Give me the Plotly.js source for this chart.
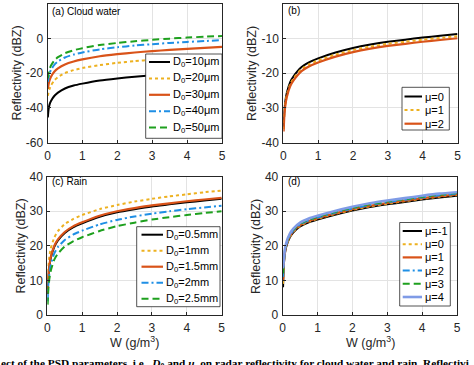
<!DOCTYPE html>
<html>
<head>
<meta charset="utf-8">
<script src="https://cdn.plot.ly/plotly-3.0.1.min.js"></script>
<style>html,body{margin:0;padding:0;background:#fff;}#chart{width:474px;height:365px;}</style>
</head>
<body>
<div id="chart"></div>
<script>
// ---- data ----
const W = [0.01, 0.03, 0.06, 0.1, 0.2, 0.3, 0.5, 0.75, 1, 1.5, 2, 2.5, 3, 3.5, 4, 4.5, 5];

// (a) cloud water, varying D0
const cloudLabels = ["D<sub>0</sub>=10μm", "D<sub>0</sub>=20μm", "D<sub>0</sub>=30μm", "D<sub>0</sub>=40μm", "D<sub>0</sub>=50μm"];
const cloudD10 = [-45.5, -41, -38, -36, -33, -31.2, -28.8, -27.1, -26, -24.2, -23, -22, -21.2, -20.6, -20, -19.5, -19];
const cloudD20 = [-33, -31, -29, -27, -24, -22.2, -19.9, -18.2, -17, -15.3, -14, -13, -12.2, -11.6, -11, -10.5, -10];
const cloudD30 = [-29, -26.5, -24, -22, -19, -17.2, -14.9, -13.2, -12, -10.2, -9, -8, -7.2, -6.5, -5.9, -5.4, -4.8];
const cloudD40 = [-25, -22.5, -20, -18, -15, -13.2, -10.9, -9.2, -8, -6.2, -5, -4, -3.2, -2.5, -1.9, -1.4, -0.9];
const cloudD50 = [-23, -20, -17.5, -15.5, -12.5, -10.7, -8.4, -6.7, -5.5, -3.7, -2.5, -1.5, -0.7, 0, 0.6, 1.1, 1.5];

// (b) cloud water, varying mu
const cloudMuLabels = ["μ=0", "μ=1", "μ=2"];
const cloudMu0 = [-35.5, -31, -28, -25.7, -22.5, -20.8, -18.4, -16.8, -15.7, -14, -12.7, -11.7, -10.9, -10.3, -9.7, -9.2, -8.7];
const cloudMu1 = [-36.1, -31.6, -28.6, -26.3, -23.1, -21.4, -19.0, -17.4, -16.3, -14.6, -13.3, -12.3, -11.5, -10.9, -10.3, -9.8, -9.3];
const cloudMu2 = [-36.8, -32.2, -29.2, -26.9, -23.7, -22.0, -19.6, -18.0, -16.9, -15.2, -13.9, -12.9, -12.1, -11.5, -10.9, -10.4, -9.9];

// (c) rain, varying D0
const rainLabels = ["D<sub>0</sub>=0.5mm", "D<sub>0</sub>=1mm", "D<sub>0</sub>=1.5mm", "D<sub>0</sub>=2mm", "D<sub>0</sub>=2.5mm"];
const rainD05 = [6, 11, 14, 16.5, 19.7, 21.5, 23.7, 25.4, 26.5, 28.4, 29.7, 30.6, 31.4, 32, 32.6, 33.1, 33.6];
const rainD1  = [9, 14, 17, 19.3, 22.4, 24.2, 26.3, 27.8, 28.9, 30.6, 31.8, 32.8, 33.6, 34.3, 34.9, 35.5, 36];
const rainD15 = [6.5, 11.3, 14.3, 16.8, 20.0, 21.8, 24.0, 25.7, 26.8, 28.7, 30.0, 30.9, 31.7, 32.3, 32.9, 33.4, 33.9];
const rainD2  = [4, 9, 12, 14.6, 17.8, 19.6, 21.7, 23.3, 24.4, 26.2, 27.5, 28.5, 29.3, 30, 30.6, 31.1, 31.6];
const rainD25 = [3, 7.5, 10.5, 12.8, 16.0, 17.7, 19.8, 21.4, 22.5, 24.3, 25.7, 26.7, 27.6, 28.3, 28.9, 29.5, 30];

// (d) rain, varying mu
const rainMuLabels = ["μ=-1", "μ=0", "μ=1", "μ=2", "μ=3", "μ=4"];
const rainMuM1 = [8, 14, 17.5, 19.7, 22.3, 23.8, 25.6, 26.8, 27.6, 29, 30.2, 31.2, 32, 32.7, 33.4, 34, 34.5];
const rainMu0  = [9, 14.3, 17.8, 19.9, 22.5, 24, 25.8, 27, 27.8, 29.2, 30.4, 31.4, 32.2, 32.9, 33.6, 34.2, 34.7];
const rainMu1  = [10, 14.6, 18, 20.1, 22.7, 24.2, 26, 27.2, 28, 29.4, 30.6, 31.6, 32.4, 33.1, 33.8, 34.4, 34.9];
const rainMu2  = [11, 14.9, 18.3, 20.3, 22.9, 24.4, 26.2, 27.4, 28.2, 29.6, 30.8, 31.8, 32.6, 33.3, 34, 34.6, 35.1];
const rainMu3  = [12, 15.2, 18.5, 20.5, 23.1, 24.6, 26.4, 27.6, 28.4, 29.8, 31, 32, 32.8, 33.5, 34.2, 34.8, 35.3];
const rainMu4  = [13.5, 15.6, 18.8, 20.8, 23.4, 24.9, 26.7, 27.9, 28.7, 30.1, 31.3, 32.3, 33.1, 33.8, 34.5, 35.1, 35.5];

const xTicks = [0, 1, 2, 3, 4, 5];
const yTicksA = [-60, -40, -20, 0, 20];
const yTicksB = [-40, -30, -20, -10, 0];
const yTicksCD = [0, 10, 20, 30, 40];

// ---- styles ----
const S = {
  black:  {color: '#000000', dash: 'solid', width: 2},
  yellow: {color: '#EDB120', dash: 'dot', width: 2},
  red:    {color: '#D95319', dash: 'solid', width: 2.2},
  blue:   {color: '#1F8FE5', dash: '7px,3px,2px,3px', width: 2},
  green:  {color: '#1EA01E', dash: '7px,4px', width: 2},
  lilac:  {color: '#7F9BE6', dash: 'solid', width: 2.6}
};

const FW = 474, FH = 365;
const px = x => x / FW;
const py = y => 1 - y / FH;

function tr(y, style, xa, ya) {
  return {x: W, y: y, type: 'scatter', mode: 'lines', xaxis: xa, yaxis: ya,
    line: {color: style.color, dash: style.dash, width: style.width, shape: 'spline', smoothing: 0.5},
    showlegend: false, hoverinfo: 'skip'};
}

const data = [
  tr(cloudD10, S.black, 'x', 'y'),
  tr(cloudD20, S.yellow, 'x', 'y'),
  tr(cloudD30, S.red, 'x', 'y'),
  tr(cloudD40, S.blue, 'x', 'y'),
  tr(cloudD50, S.green, 'x', 'y'),
  tr(cloudMu0, S.black, 'x2', 'y2'),
  tr(cloudMu1, S.yellow, 'x2', 'y2'),
  tr(cloudMu2, S.red, 'x2', 'y2'),
  tr(rainD05, S.black, 'x3', 'y3'),
  tr(rainD1, S.yellow, 'x3', 'y3'),
  tr(rainD15, S.red, 'x3', 'y3'),
  tr(rainD2, S.blue, 'x3', 'y3'),
  tr(rainD25, S.green, 'x3', 'y3'),
  tr(rainMuM1, S.black, 'x4', 'y4'),
  tr(rainMu0, S.yellow, 'x4', 'y4'),
  tr(rainMu1, S.red, 'x4', 'y4'),
  tr(rainMu2, S.blue, 'x4', 'y4'),
  tr(rainMu3, S.green, 'x4', 'y4'),
  tr(rainMu4, S.lilac, 'x4', 'y4')
];

const FONT = 'Liberation Sans, Arial, sans-serif';
const AX = '#262626';

function xa(domain, anchor) {
  return {domain: domain, anchor: anchor, range: [0, 5], tickvals: xTicks, ticktext: xTicks.map(String),
    showgrid: true, gridcolor: '#E3E3E3', zeroline: false, showline: true, mirror: true,
    linecolor: AX, linewidth: 1, ticks: 'inside', ticklen: 3, tickcolor: AX,
    tickfont: {family: FONT, size: 12, color: AX}, ticklabelstandoff: 2};
}
function ya(domain, anchor, range, ticks) {
  return {domain: domain, anchor: anchor, range: range, tickvals: ticks, ticktext: ticks.map(String),
    showgrid: true, gridcolor: '#E3E3E3', zeroline: false, showline: true, mirror: true,
    linecolor: AX, linewidth: 1, ticks: 'inside', ticklen: 3, tickcolor: AX,
    tickfont: {family: FONT, size: 12, color: AX}, ticklabelstandoff: 1};
}

const topY = [py(142.5), py(4)];
const botY = [py(315), py(176.7)];

const shapes = [];
const annotations = [];

function legend(box, entries, firstY, step, lx0, lx1, tx) {
  shapes.push({type: 'rect', xref: 'paper', yref: 'paper', x0: px(box[0]), x1: px(box[2]), y0: py(box[1]), y1: py(box[3]),
    line: {color: AX, width: 0.8}, fillcolor: '#FFFFFF', layer: 'above'});
  entries.forEach((e, i) => {
    const yy = firstY + i * step;
    shapes.push({type: 'line', xref: 'paper', yref: 'paper', x0: px(lx0), x1: px(lx1), y0: py(yy), y1: py(yy),
      line: {color: e.style.color, dash: e.style.dash, width: e.style.width}, layer: 'above'});
    annotations.push({xref: 'paper', yref: 'paper', x: px(tx), y: py(yy), xanchor: 'left', yanchor: 'middle',
      text: e.label, showarrow: false, font: {family: FONT, size: 11, color: '#000'}});
  });
}

legend([145.7, 54, 222, 138.3],
  [{label: cloudLabels[0], style: S.black}, {label: cloudLabels[1], style: S.yellow}, {label: cloudLabels[2], style: S.red},
   {label: cloudLabels[3], style: S.blue}, {label: cloudLabels[4], style: S.green}], 62, 16.4, 149, 170, 171);
legend([402, 87.3, 449.3, 130],
  [{label: cloudMuLabels[0], style: S.black}, {label: cloudMuLabels[1], style: S.yellow}, {label: cloudMuLabels[2], style: S.red}],
  96.5, 13.6, 404.5, 422, 423);
legend([136.7, 226.7, 220, 306.7],
  [{label: rainLabels[0], style: S.black}, {label: rainLabels[1], style: S.yellow}, {label: rainLabels[2], style: S.red},
   {label: rainLabels[3], style: S.blue}, {label: rainLabels[4], style: S.green}], 234.7, 16, 141.5, 163, 164);
legend([399.7, 222.5, 450.3, 306],
  [{label: rainMuLabels[0], style: S.black}, {label: rainMuLabels[1], style: S.yellow}, {label: rainMuLabels[2], style: S.red},
   {label: rainMuLabels[3], style: S.blue}, {label: rainMuLabels[4], style: S.green}, {label: rainMuLabels[5], style: S.lilac}],
  231, 13.2, 402.7, 422, 423);

// panel labels
[["(a) Cloud water", 50, 12], ["(b)", 286, 10.5], ["(c) Rain", 49.5, 182], ["(d)", 286, 182]].forEach(p => {
  annotations.push({xref: 'paper', yref: 'paper', x: px(p[1]), y: py(p[2]), xanchor: 'left', yanchor: 'middle',
    text: p[0], showarrow: false, font: {family: FONT, size: 10, color: '#000'}});
});

// axis titles
[[16.5, 73], [252, 73], [20.5, 246], [256, 246]].forEach(p => {
  annotations.push({xref: 'paper', yref: 'paper', x: px(p[0]), y: py(p[1]), xanchor: 'center', yanchor: 'middle',
    text: 'Reflectivity (dBZ)', textangle: -90, showarrow: false, font: {family: FONT, size: 12.5, color: AX}});
});
[[134.5, 342], [370, 342]].forEach(p => {
  annotations.push({xref: 'paper', yref: 'paper', x: px(p[0]), y: py(p[1]), xanchor: 'center', yanchor: 'middle',
    text: 'W (g/m<sup>3</sup>)', showarrow: false, font: {family: FONT, size: 12.5, color: AX}});
});

// caption fragment at the bottom edge
annotations.push({xref: 'paper', yref: 'paper', x: px(-1), y: py(355), xanchor: 'left', yanchor: 'top',
  text: '<b>ect of the PSD parameters, i.e., <i>D</i><sub>0</sub> and <i>μ</i>, on radar reflectivity for cloud water and rain. Reflectivi</b>',
  showarrow: false, font: {family: 'Liberation Serif, Times New Roman, serif', size: 11.3, color: '#000'}});

const layout = {
  width: FW, height: FH, margin: {l: 0, r: 0, t: 0, b: 0},
  paper_bgcolor: '#FFFFFF', plot_bgcolor: '#FFFFFF', showlegend: false,
  xaxis: xa([px(47.5), px(222)], 'y'),
  yaxis: ya(topY, 'x', [-60, 20], yTicksA),
  xaxis2: xa([px(283.3), px(457.5)], 'y2'),
  yaxis2: ya(topY, 'x2', [-40, 0], yTicksB),
  xaxis3: xa([px(47.3), px(221.7)], 'y3'),
  yaxis3: ya(botY, 'x3', [0, 40], yTicksCD),
  xaxis4: xa([px(282.7), px(457)], 'y4'),
  yaxis4: ya(botY, 'x4', [0, 40], yTicksCD),
  shapes: shapes, annotations: annotations
};

Plotly.newPlot('chart', data, layout, {staticPlot: true, displayModeBar: false});
</script>
</body>
</html>
